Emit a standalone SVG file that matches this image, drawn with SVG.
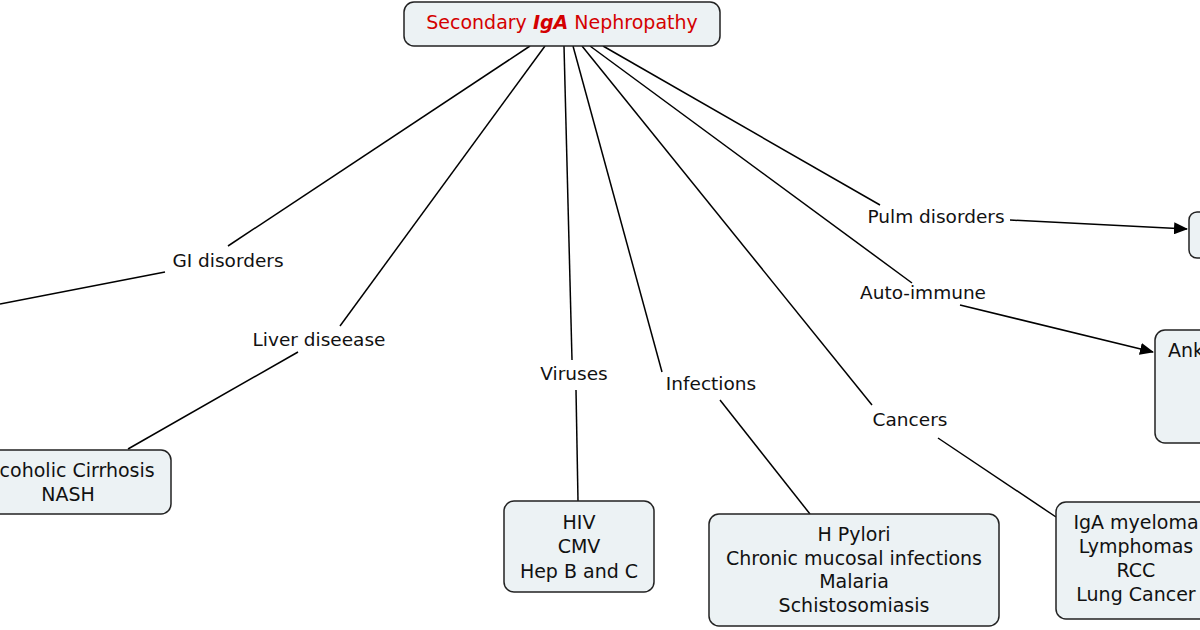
<svg xmlns="http://www.w3.org/2000/svg" width="1200" height="630" viewBox="0 0 1200 630">
<defs>
<marker id="ah" markerWidth="14" markerHeight="12" refX="13" refY="6" orient="auto" markerUnits="userSpaceOnUse"><path d="M0,0 L14,6 L0,12 Z" fill="#000"/></marker>
<style>
.box{fill:#ecf2f4;stroke:#222;stroke-width:1.5}
text{font-family:"DejaVu Sans",Verdana,sans-serif;font-size:19px;fill:#111;text-anchor:middle}
.lbl{font-size:18.5px}
.c{stroke:#000;stroke-width:1.5;fill:none}
</style>
</defs>
<rect width="1200" height="630" fill="#fff"/>
<g id="connectors">
<line class="c" x1="530" y1="46" x2="228" y2="246"/>
<line class="c" x1="165" y1="272" x2="0" y2="304"/>
<line class="c" x1="545" y1="46" x2="340" y2="326"/>
<line class="c" x1="298" y1="352" x2="128" y2="449"/>
<line class="c" x1="564" y1="46" x2="572" y2="360"/>
<line class="c" x1="576" y1="390" x2="578" y2="501"/>
<line class="c" x1="573" y1="46" x2="662" y2="372"/>
<line class="c" x1="720" y1="400" x2="810" y2="514"/>
<line class="c" x1="582" y1="46" x2="872" y2="405"/>
<line class="c" x1="938" y1="438" x2="1056" y2="517"/>
<line class="c" x1="590" y1="46" x2="912" y2="283"/>
<line class="c" x1="960" y1="305" x2="1153" y2="352" marker-end="url(#ah)"/>
<line class="c" x1="603" y1="46" x2="880" y2="205"/>
<line class="c" x1="1010" y1="220" x2="1187" y2="229" marker-end="url(#ah)"/>
</g>
<g id="labels">
<text class="lbl" x="228" y="267">GI disorders</text>
<text class="lbl" x="319" y="346">Liver diseease</text>
<text class="lbl" x="574" y="380">Viruses</text>
<text class="lbl" x="711" y="390">Infections</text>
<text class="lbl" x="910" y="426">Cancers</text>
<text class="lbl" x="923" y="299">Auto-immune</text>
<text class="lbl" x="936" y="223">Pulm disorders</text>
</g>
<g id="title">
<rect class="box" x="404" y="2" width="316" height="44" rx="10"/>
<text x="562" y="29" style="fill:#d40000">Secondary <tspan font-weight="bold" font-style="italic">IgA</tspan>  Nephropathy</text>
</g>
<g id="liver-node">
<rect class="box" x="-12" y="450" width="183" height="64" rx="10"/>
<text x="68" y="477">Alcoholic Cirrhosis</text>
<text x="68" y="501">NASH</text>
</g>
<g id="virus-node">
<rect class="box" x="504" y="501" width="150" height="91" rx="10"/>
<text x="579" y="529">HIV</text>
<text x="579" y="553">CMV</text>
<text x="579" y="578">Hep B and C</text>
</g>
<g id="infection-node">
<rect class="box" x="709" y="514" width="290" height="112" rx="10"/>
<text x="854" y="541">H Pylori</text>
<text x="854" y="565">Chronic mucosal infections</text>
<text x="854" y="588">Malaria</text>
<text x="854" y="612">Schistosomiasis</text>
</g>
<g id="cancer-node">
<rect class="box" x="1056" y="502" width="160" height="117" rx="10"/>
<text x="1136" y="529">IgA myeloma</text>
<text x="1136" y="553">Lymphomas</text>
<text x="1136" y="577">RCC</text>
<text x="1136" y="601">Lung Cancer</text>
</g>
<g id="autoimmune-node">
<rect class="box" x="1155" y="330" width="60" height="113" rx="10"/>
<text x="1168" y="357" style="text-anchor:start">Ankylosing</text>
</g>
<g id="pulm-node">
<rect class="box" x="1189" y="212" width="30" height="46" rx="8"/>
</g>
</svg>
